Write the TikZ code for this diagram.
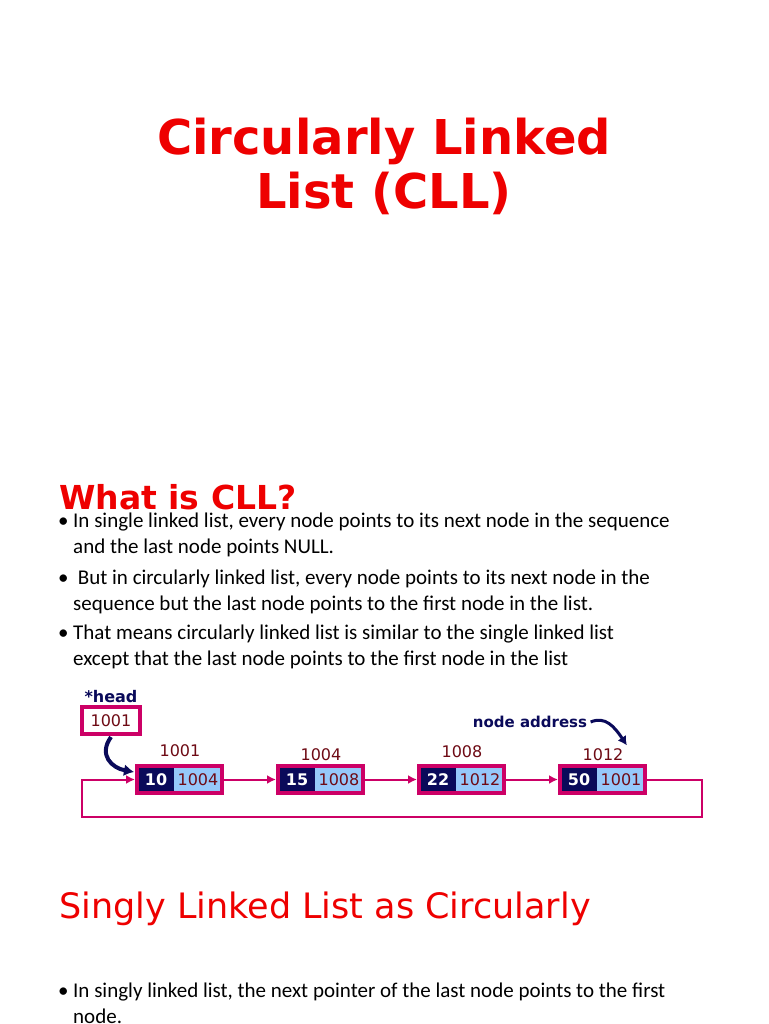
\documentclass[tikz,border=0pt]{standalone}
\usepackage{fontspec}
\usetikzlibrary{arrows.meta}
\setmainfont{Carlito}
\newfontfamily\djv{DejaVu Sans}
\definecolor{cllred}{RGB}{238,0,0}
\definecolor{pinkb}{RGB}{204,0,102}
\definecolor{navy}{RGB}{10,10,90}
\definecolor{lblue}{RGB}{150,200,250}
\definecolor{maroon}{RGB}{110,10,20}
\begin{document}
\begin{tikzpicture}[x=1pt,y=-1pt,
  body/.style={anchor=north west,font=\fontsize{21}{25.5}\selectfont,text width=700pt,inner sep=0pt,align=flush left},
  addr/.style={font=\djv\fontsize{16}{16}\selectfont,text=maroon},
  pk/.style={draw=pinkb,line width=2pt,-{Latex[length=9pt,width=9pt]}},
  ]
\useasboundingbox (0,0) rectangle (768,1024);
\fill[white] (0,0) rectangle (768,1024);
\node[font=\djv\bfseries\fontsize{48}{54}\selectfont,text=cllred,align=center] (title) at (384,166) {Circularly Linked\\List (CLL)};
\node[anchor=west,font=\djv\bfseries\fontsize{33}{33}\selectfont,text=cllred,inner sep=0pt] (h1) at (59,497) {What is CLL?};
\node[body] (b1) at (58,513) {\makebox[15pt][l]{•}In single linked list, every node points to its next node in the sequence\\\hspace*{15pt}and the last node points NULL.};
\node[body] (b2) at (58,570) {\makebox[15pt][l]{•} But in circularly linked list, every node points to its next node in the\\\hspace*{15pt}sequence but the last node points to the first node in the list.};
\node[body] (b3) at (58,625) {\makebox[15pt][l]{•}That means circularly linked list is similar to the single linked list\\\hspace*{15pt}except that the last node points to the first node in the list};
\node[anchor=west,font=\djv\fontsize{35}{35}\selectfont,text=cllred,inner sep=0pt] (h2) at (59,909) {Singly Linked List as Circularly};
\node[body] (b4) at (58,983) {\makebox[15pt][l]{•}In singly linked list, the next pointer of the last node points to the first\\\hspace*{15pt}node.};
% head
\node[font=\djv\bfseries\fontsize{16}{16}\selectfont,text=navy] (headlbl) at (111,697) {*head};
\draw[pinkb,line width=3.5pt,fill=white] (82,707) rectangle (140,734);
\node[addr] (headbox) at (111,720.5) {1001};
\coordinate (hb) at (111,737);
% list nodes
\foreach \i/\x/\d/\a/\l/\ly in {1/137/10/1004/1001/751,2/278/15/1008/1004/755,3/419/22/1012/1008/752,4/560/50/1001/1012/755}{
  \fill[navy] (\x,766) rectangle (\x+37,793);
  \fill[lblue] (\x+37,766) rectangle (\x+85,793);
  \draw[pinkb,line width=3.5pt] (\x,766) rectangle (\x+85,793);
  \node[font=\djv\bfseries\fontsize{16}{16}\selectfont,text=white] (d\i) at (\x+19,779.5) {\d};
  \node[addr] (a\i) at (\x+61,779.5) {\a};
  \node[addr] (l\i) at (\x+43,\ly) {\l};
  \coordinate (L\i) at (\x-2,779.5);
  \coordinate (R\i) at (\x+87,779.5);
}
\draw[pk] (R1) -- (L2);
\draw[pk] (R2) -- (L3);
\draw[pk] (R3) -- (L4);
\coordinate (c1) at (702,779.5);
\coordinate (c2) at (702,817);
\coordinate (c3) at (82,817);
\coordinate (c4) at (82,779.5);
\draw[pk] (R4) -- (c1) -- (c2) -- (c3) -- (c4) -- (L1);
\draw[navy,line width=4pt,-{Latex[length=10pt,width=12pt]}] (hb) .. controls (98,755) and (112,768) .. (134,772);
\node[font=\djv\bfseries\fontsize{15}{15}\selectfont,text=navy] (na) at (530,722) {node address};
\draw[navy,line width=3pt,-{Latex[length=9pt,width=10pt]}] (na.east) .. controls (605,716) and (614,726) .. (l4.north east);
\end{tikzpicture}
\end{document}
